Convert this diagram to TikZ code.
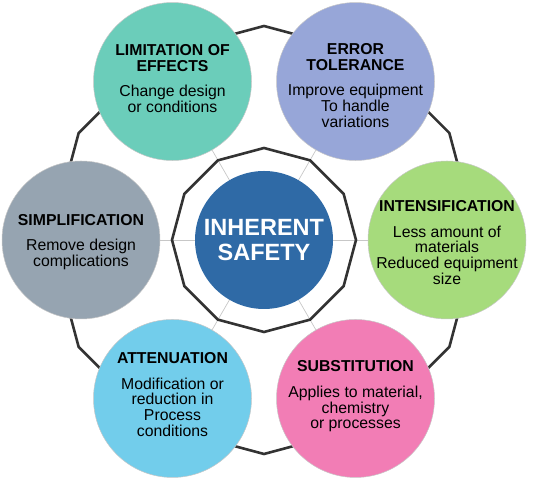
\documentclass[tikz,border=0pt]{standalone}
\usepackage{fontspec}
\setmainfont{Liberation Sans}
\usetikzlibrary{calc}
\definecolor{cLim}{RGB}{107,205,186}
\definecolor{cErr}{RGB}{151,166,216}
\definecolor{cInt}{RGB}{166,219,124}
\definecolor{cSim}{RGB}{150,164,177}
\definecolor{cAtt}{RGB}{114,205,235}
\definecolor{cSub}{RGB}{242,125,181}
\definecolor{cCen}{RGB}{47,106,166}
\definecolor{cRing}{RGB}{51,51,51}
\begin{document}
\begin{tikzpicture}[x=1pt,y=1pt,
  petal/.style={circle, minimum size=158pt, inner sep=0pt, draw=black!22, line width=0.5pt},
  txt/.style={align=center, font=\fontsize{15.8}{15.6}\selectfont, text=black, inner sep=0pt},
  ring/.style={draw=cRing, line width=2.6pt},
  spoke/.style={draw=black!22, line width=0.7pt}]
\useasboundingbox (0,0) rectangle (533,478);
\coordinate (C) at (264,238);
\foreach \a/\n in {120/lim,60/err,0/int,300/sub,240/att,180/sim}
  \coordinate (p\n) at ($(C)+(\a:183pt)$);
% spokes
\foreach \n in {lim,err,int,sub,att,sim}
  \draw[spoke] (C) -- (p\n);
% rings
\draw[ring] ($(C)+(0:214pt)$) \foreach \k in {1,...,11}{ -- ($(C)+(\k*30:214pt)$)} -- cycle;
\draw[ring] ($(C)+(0:92pt)$) \foreach \k in {1,...,11}{ -- ($(C)+(\k*30:92pt)$)} -- cycle;
% centre
\node[circle, minimum size=138pt, inner sep=0pt, fill=cCen] (cen) at (C) {};
\node[txt, text=white, font=\bfseries\fontsize{23.5}{25}\selectfont] (cent) at (C) {INHERENT\\SAFETY};
% petals
\node[petal, fill=cLim] (lim) at (plim) {};
\node[petal, fill=cErr] (err) at (perr) {};
\node[petal, fill=cInt] (int) at (pint) {};
\node[petal, fill=cSub] (sub) at (psub) {};
\node[petal, fill=cAtt] (att) at (patt) {};
\node[petal, fill=cSim] (sim) at (psim) {};
\node[txt] (limt) at ($(plim)+(0,3)$) {\textbf{LIMITATION OF}\\\textbf{EFFECTS}\\[10pt]Change design\\or conditions};
\node[txt] (errt) at ($(perr)+(0,-4)$) {\textbf{ERROR}\\\textbf{TOLERANCE}\\[10pt]Improve equipment\\To handle\\variations};
\node[txt] (intt) at ($(pint)+(0,-2.5)$) {\textbf{INTENSIFICATION}\\[10pt]Less amount of\\materials\\Reduced equipment\\size};
\node[txt] (simt) at ($(psim)+(0,-2)$) {\textbf{SIMPLIFICATION}\\[10pt]Remove design\\complications};
\node[txt] (attt) at ($(patt)+(0,4)$) {\textbf{ATTENUATION}\\[10pt]Modification or\\reduction in\\Process\\conditions};
\node[txt] (subt) at ($(psub)+(0,2)$) {\textbf{SUBSTITUTION}\\[10pt]Applies to material,\\chemistry\\or processes};
\end{tikzpicture}
\end{document}
